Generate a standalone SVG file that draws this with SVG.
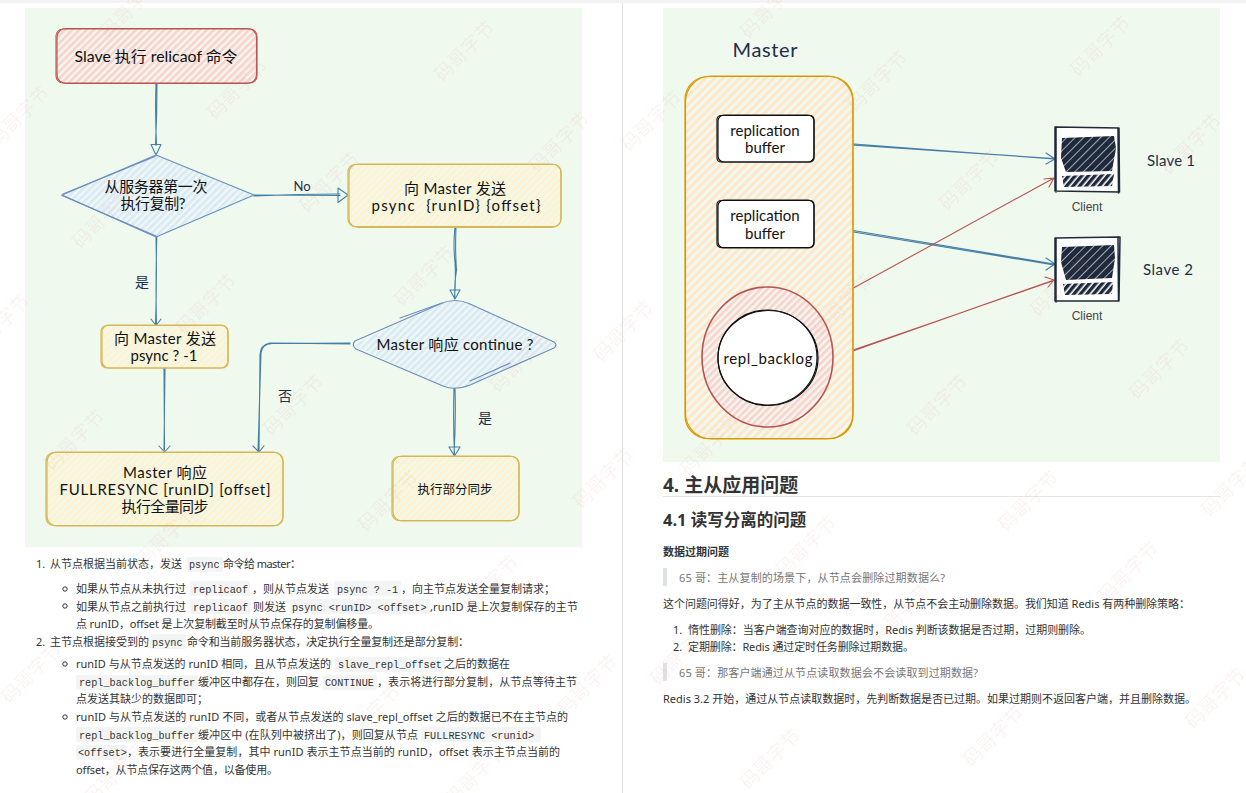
<svg xmlns="http://www.w3.org/2000/svg" width="1246" height="793" viewBox="0 0 1246 793">
<style>
text{font-family:"Noto Sans","Noto Sans CJK SC",sans-serif;fill:#333;font-size:11px}
.h{font-family:"Lato","Noto Sans CJK SC",sans-serif;fill:#111;font-size:15px;text-anchor:middle}
.lab{font-family:"Lato","Noto Sans CJK SC",sans-serif;fill:#1e2d4a;font-size:14px;text-anchor:middle}
.c{font-family:"Liberation Mono","Noto Sans CJK SC",monospace;font-size:10.2px;fill:#333}
.cb{fill:#f3f4f4}
.q{fill:#777}
.bar{fill:#dfe2e5}
.b{font-weight:700;fill:#333}
.s{fill:none;stroke-linejoin:round;stroke-linecap:round}
.red{stroke:#b85450;stroke-width:1.1}
.yel{stroke:#d6b656;stroke-width:1.2}
.blu{stroke:#6c8ebf;stroke-width:1.2}
.org{stroke:#d79b00;stroke-width:1.2}
.blk{stroke:#111;stroke-width:1.2}
.lnk{fill:none;stroke:#457fa5;stroke-width:1.1;stroke-linecap:round;stroke-linejoin:round}
.lnr{fill:none;stroke:#b85450;stroke-width:1.1;stroke-linecap:round;stroke-linejoin:round}
.wm{font-family:"Noto Sans CJK SC",sans-serif;font-size:19px;fill:#e8837f;fill-opacity:.11;text-anchor:middle}
.bul{fill:none;stroke:#333;stroke-width:1}
</style>
<defs>
<pattern id="hp" patternUnits="userSpaceOnUse" width="5" height="5" patternTransform="rotate(-45)"><rect width="5" height="5" fill="#f3f7ec"/><rect y="1" width="5" height="2.6" fill="#f9d2d0"/></pattern>
<pattern id="hy" patternUnits="userSpaceOnUse" width="5" height="5" patternTransform="rotate(-45)"><rect width="5" height="5" fill="#f1f9ec"/><rect y="1" width="5" height="2.600" fill="#fff2cc"/></pattern>
<pattern id="hb" patternUnits="userSpaceOnUse" width="5" height="5" patternTransform="rotate(-45)"><rect width="5" height="5" fill="#f0f9ee"/><rect y="1" width="5" height="2.600" fill="#dae8fc"/></pattern>
<pattern id="ho" patternUnits="userSpaceOnUse" width="6" height="6" patternTransform="rotate(-45)"><rect width="6" height="6" fill="#f1f9ec"/><rect y="1" width="6" height="3" fill="#ffe6cc"/></pattern>
<pattern id="dk" patternUnits="userSpaceOnUse" width="6" height="6" patternTransform="rotate(-45)"><rect y="0" width="6" height="5.400" fill="#1e293b"/></pattern>
<pattern id="dk2" patternUnits="userSpaceOnUse" width="5" height="5" patternTransform="rotate(-50)"><rect y="0" width="5" height="3.400" fill="#1e293b"/></pattern>
</defs>
<rect width="1246" height="793" fill="#fff"/>
<rect width="1246" height="3" fill="#f3f3f3"/>
<rect x="622" y="3" width="1" height="790" fill="#e2e2e2"/>
<rect x="25" y="8" width="557" height="539" fill="#f0f9ee"/>
<rect x="663" y="8" width="557" height="454" fill="#f0f9ee"/>

<g id="connectors">
<path class="lnk" d="M156 83Q155 115 156.500 145M157 83Q157 115 155.500 145M156 237Q157 280 155.500 325M156.800 237Q155.500 285 156.500 325M254 195L340 195.500M254 196Q300 194 340 194M164 368L164.500 450M165 368L164 450M455 227Q453 245 455 262Q456 280 454.500 298M456 227Q455 250 456.500 270Q454 285 455 298M350 343L272 343.500Q262 344 261 353L258 451M350 344L270 343Q260 345 260 355L259 451M454 388Q453 420 454.500 455M455 388Q456 420 454 455"/>
<path class="lnk" d="M151 144.500L161 144.500L156 155ZM338 188L348 195L338 202.500ZM151 319L156 325.500L161 319M159 446L164.500 452L170 446M450 290L455 299L460 290L450 290M253 446L259 452L264 446M449 447L454.500 456L460 447L449 447"/>
<path class="lnk" d="M814 141L1054 159M814 142.500L1054 158.500M814 224L1054 264M814 225.500L1054 265M1046 153L1055 159L1046 164M1046 258L1055 264L1046 270"/>
<path class="lnr" d="M817 308L1054 178M833 357L1054 280.500M833 358L1054 280M1044 179L1054 178L1049 187M1045 277L1054 280L1048 287"/>
<text class="lab" x="302" y="191" style="font-size:13px">No</text>
<text class="lab" x="142" y="287">是</text>
<text class="lab" x="285" y="401">否</text>
<text class="lab" x="485" y="423">是</text>
</g>

<g id="node-slave">
<rect x="56" y="29" width="201" height="54" rx="8" fill="url(#hp)"/>
<rect class="s red" x="56" y="29" width="201" height="54" rx="7"/>
<rect class="s red" x="57" y="28.500" width="199.500" height="55" rx="9"/>
<text class="h" x="156" y="62" textLength="163" lengthAdjust="spacingAndGlyphs">Slave 执行 relicaof 命令</text>
</g>
<g id="node-first">
<path d="M62 195L156 155L254 195L156 237Z" fill="url(#hb)"/>
<path class="s blu" d="M62 195L156 155L254 195L156 237Z"/>
<path class="s blu" d="M63 194L155 156.500M62 195.500L156 236"/>
<text class="h" x="156" y="192" textLength="103">从服务器第一次</text>
<text class="h" x="153" y="209" textLength="65">执行复制?</text>
</g>
<g id="node-psync-full">
<rect x="348" y="164" width="213" height="63" rx="8" fill="url(#hy)"/>
<rect class="s yel" x="348" y="164.500" width="213" height="62" rx="7"/>
<rect class="s yel" x="349" y="164" width="212" height="63.500" rx="9"/>
<text class="h" x="455" y="194" textLength="102">向 Master 发送</text>
<text class="h" x="456" y="211" textLength="169" xml:space="preserve">psync  {runID} {offset}</text>
</g>
<g id="node-psync-first">
<rect x="101" y="325" width="127" height="43" rx="6" fill="url(#hy)"/>
<rect class="s yel" x="101" y="325.500" width="127" height="42.500" rx="6"/>
<rect class="s yel" x="102" y="325" width="126" height="43" rx="7"/>
<text class="h" x="165" y="344" textLength="102">向 Master 发送</text>
<text class="h" x="164" y="361" textLength="67">psync ? -1</text>
</g>
<g id="node-continue">
<path d="M353 345L440 304Q455 298 470 304L556 345L470 385Q455 390 440 385Z" fill="url(#hb)"/>
<path class="s blu" d="M355 341L440 304Q455 297 470 304L554 342Q558 345 554 348L470 385Q455 391 443 386L356 349Q351 345 355 341Z"/>
<path class="s blu" d="M400 318L442 303M470 381L510 363"/>
<text class="h" x="455" y="350" textLength="157" xml:space="preserve">Master 响应 continue ?</text>
</g>
<g id="node-full">
<rect x="46" y="452" width="237" height="74" rx="9" fill="url(#hy)"/>
<rect class="s yel" x="46" y="452.500" width="237" height="73" rx="8"/>
<rect class="s yel" x="47" y="452" width="236" height="74" rx="10"/>
<text class="h" x="165" y="478" textLength="84">Master 响应</text>
<text class="h" x="165" y="495" textLength="211">FULLRESYNC [runID] [offset]</text>
<text class="h" x="165" y="512" textLength="87">执行全量同步</text>
</g>
<g id="node-partial">
<rect x="392" y="456" width="127" height="65" rx="8" fill="url(#hy)"/>
<rect class="s yel" x="392" y="456.500" width="127" height="64" rx="7"/>
<rect class="s yel" x="393" y="456" width="126" height="65" rx="9"/>
<text class="h" x="455" y="494" style="font-size:12.500px">执行部分同步</text>
</g>

<text class="lab" x="765" y="57" style="font-size:20px" textLength="65">Master</text>
<g id="node-master">
<rect x="685" y="76" width="168" height="363" rx="24" fill="url(#ho)"/>
<rect class="s org" x="685" y="76.500" width="168" height="362" rx="23"/>
<rect class="s org" x="685.500" y="76" width="167.500" height="363" rx="26"/>
</g>
<g id="node-buffer1">
<rect x="717" y="115" width="97" height="47" rx="5" fill="#fff"/>
<rect class="s blk" x="717" y="115.500" width="97" height="46.500" rx="4"/>
<rect class="s blk" x="718" y="115" width="96" height="47" rx="6"/>
<text class="h" x="765" y="136">replication</text>
<text class="h" x="765" y="153">buffer</text>
</g>
<g id="node-buffer2">
<rect x="717" y="200" width="97" height="48" rx="5" fill="#fff"/>
<rect class="s blk" x="717" y="200.500" width="97" height="47" rx="4"/>
<rect class="s blk" x="718" y="200" width="96" height="48" rx="6"/>
<text class="h" x="765" y="221">replication</text>
<text class="h" x="765" y="239">buffer</text>
</g>
<g id="node-backlog">
<ellipse cx="767.500" cy="357" rx="65.500" ry="70" fill="url(#hp)"/>
<ellipse class="s red" style="stroke-width:1.600" cx="767.500" cy="357" rx="65.500" ry="70"/>
<ellipse cx="768" cy="358" rx="50" ry="47.500" fill="#fff"/>
<ellipse class="s blk" cx="768" cy="358" rx="50" ry="47.500"/>
<ellipse class="s blk" cx="767.500" cy="357.500" rx="49.500" ry="47.500"/>
<text class="h" x="768" y="364" textLength="89">repl_backlog</text>
</g>
<g id="node-slave1">
<rect x="1055" y="127" width="64" height="65" fill="#fff"/>
<path class="s" style="stroke:#1e293b;stroke-width:1.500" d="M1055 127L1119 128L1119.500 192L1055 191ZM1056 127L1056 192M1118 128L1118.500 193"/>
<path d="M1062 138L1114 136L1116 148L1112 171L1066 172L1061 158Z" fill="url(#dk)"/>
<path d="M1062 176L1114 174L1112 186L1064 187Z" fill="url(#dk2)"/>
<text x="1087" y="211" text-anchor="middle" style="font-family:'Liberation Sans',sans-serif;font-size:12px;fill:#444">Client</text>
<text class="lab" x="1171" y="166" style="font-size:15px" textLength="48">Slave 1</text>
</g>
<g id="node-slave2">
<rect x="1055" y="237" width="64" height="65" fill="#fff"/>
<path class="s" style="stroke:#1e293b;stroke-width:1.500" d="M1055 238L1120 237L1119 301L1055 301ZM1056 238L1056 302M1118 237L1118.500 301"/>
<path d="M1062 247L1114 245L1115 258L1112 278L1066 280L1061 262Z" fill="url(#dk)"/>
<path d="M1063 284L1113 282L1112 294L1065 295Z" fill="url(#dk2)"/>
<text x="1087" y="320" text-anchor="middle" style="font-family:'Liberation Sans',sans-serif;font-size:12px;fill:#444">Client</text>
<text class="lab" x="1168" y="275" style="font-size:15px" textLength="50">Slave 2</text>
</g>

<g id="left-text">
<rect class="cb" x="187" y="557" width="36" height="15" rx="2"/>
<rect class="cb" x="190" y="581" width="60" height="15" rx="2"/>
<rect class="cb" x="334" y="581" width="67" height="15" rx="2"/>
<rect class="cb" x="190" y="599" width="60" height="15" rx="2"/>
<rect class="cb" x="290" y="599" width="140" height="15" rx="2"/>
<rect class="cb" x="150" y="634" width="36" height="15" rx="2"/>
<rect class="cb" x="335" y="657" width="110" height="15" rx="2"/>
<rect class="cb" x="76" y="675" width="122" height="15" rx="2"/>
<rect class="cb" x="323" y="675" width="54" height="15" rx="2"/>
<rect class="cb" x="76" y="727" width="122" height="15" rx="2"/>
<rect class="cb" x="421" y="727" width="120" height="15" rx="2"/>
<rect class="cb" x="76" y="745" width="51" height="15" rx="2"/>
<text x="36" y="568">1.</text>
<text x="50" y="568">从节点根据当前状态，发送</text>
<text class="c" x="189" y="568">psync</text>
<text x="223" y="568" textLength="78">命令给 master：</text>
<circle class="bul" cx="65" cy="589" r="2.200"/>
<text x="76" y="593">如果从节点从未执行过</text>
<text class="c" x="193" y="593">replicaof</text>
<text x="252" y="593">，则从节点发送</text>
<text class="c" x="337" y="593" xml:space="preserve">psync ? -1</text>
<text x="401" y="593">，向主节点发送全量复制请求；</text>
<circle class="bul" cx="65" cy="606" r="2.200"/>
<text x="76" y="611">如果从节点之前执行过</text>
<text class="c" x="193" y="611">replicaof</text>
<text x="253" y="611">则发送</text>
<text class="c" x="292" y="611" xml:space="preserve">psync &lt;runID&gt; &lt;offset&gt;</text>
<text x="430" y="611" textLength="148">,runID 是上次复制保存的主节</text>
<text x="76" y="628" textLength="303">点 runID，offset 是上次复制截至时从节点保存的复制偏移量。</text>
<text x="36" y="646">2.</text>
<text x="50" y="646">主节点根据接受到的</text>
<text class="c" x="152" y="646">psync</text>
<text x="187" y="646" textLength="282">命令和当前服务器状态，决定执行全量复制还是部分复制：</text>
<circle class="bul" cx="65" cy="664" r="2.200"/>
<text x="76" y="668" textLength="255">runID 与从节点发送的 runID 相同，且从节点发送的</text>
<text class="c" x="338" y="668">slave_repl_offset</text>
<text x="444" y="668">之后的数据在</text>
<text class="c" x="79" y="686">repl_backlog_buffer</text>
<text x="198" y="686">缓冲区中都存在，则回复</text>
<text class="c" x="325" y="686">CONTINUE</text>
<text x="377" y="686" textLength="200">，表示将进行部分复制，从节点等待主节</text>
<text x="76" y="703">点发送其缺少的数据即可；</text>
<circle class="bul" cx="65" cy="717" r="2.200"/>
<text x="76" y="721" textLength="492">runID 与从节点发送的 runID 不同，或者从节点发送的 slave_repl_offset 之后的数据已不在主节点的</text>
<text class="c" x="79" y="739">repl_backlog_buffer</text>
<text x="198" y="739" textLength="220">缓冲区中 (在队列中被挤出了)，则回复从节点</text>
<text class="c" x="424" y="739" xml:space="preserve">FULLRESYNC &lt;runid&gt;</text>
<text class="c" x="78" y="756">&lt;offset&gt;</text>
<text x="127" y="756" textLength="433">，表示要进行全量复制，其中 runID 表示主节点当前的 runID，offset 表示主节点当前的</text>
<text x="76" y="774" textLength="202">offset，从节点保存这两个值，以备使用。</text>
</g>

<g id="right-text">
<text class="b" x="663" y="492" style="font-size:19px">4. 主从应用问题</text>
<rect x="663" y="496" width="557" height="1" fill="#e6e6e6"/>
<text class="b" x="663" y="526" style="font-size:16.500px">4.1 读写分离的问题</text>
<text class="b" x="663" y="556">数据过期问题</text>
<rect class="bar" x="663" y="568" width="4" height="18"/>
<text class="q" x="679" y="582" textLength="266">65 哥：主从复制的场景下，从节点会删除过期数据么?</text>
<text x="663" y="608" textLength="527">这个问题问得好，为了主从节点的数据一致性，从节点不会主动删除数据。我们知道 Redis 有两种删除策略：</text>
<text x="673" y="634">1.</text>
<text x="688" y="634" textLength="403">惰性删除：当客户端查询对应的数据时，Redis 判断该数据是否过期，过期则删除。</text>
<text x="673" y="651">2.</text>
<text x="688" y="651" textLength="226">定期删除：Redis 通过定时任务删除过期数据。</text>
<rect class="bar" x="663" y="663" width="4" height="18"/>
<text class="q" x="679" y="677" textLength="299">65 哥：那客户端通过从节点读取数据会不会读取到过期数据?</text>
<text x="663" y="703" textLength="533">Redis 3.2 开始，通过从节点读取数据时，先判断数据是否已过期。如果过期则不返回客户端，并且删除数据。</text>
</g>

<g id="watermarks">
<text class="wm" transform="translate(135 13) rotate(-45)">码哥字节</text>
<text class="wm" transform="translate(242 94) rotate(-45)">码哥字节</text>
<text class="wm" transform="translate(334 187) rotate(-45)">码哥字节</text>
<text class="wm" transform="translate(429 281) rotate(-45)">码哥字节</text>
<text class="wm" transform="translate(525 367) rotate(-45)">码哥字节</text>
<text class="wm" transform="translate(469 56) rotate(-45)">码哥字节</text>
<text class="wm" transform="translate(564 147) rotate(-45)">码哥字节</text>
<text class="wm" transform="translate(24 121) rotate(-45)">码哥字节</text>
<text class="wm" transform="translate(107 223) rotate(-45)">码哥字节</text>
<text class="wm" transform="translate(211 309) rotate(-45)">码哥字节</text>
<text class="wm" transform="translate(298 410) rotate(-45)">码哥字节</text>
<text class="wm" transform="translate(393 506) rotate(-45)">码哥字节</text>
<text class="wm" transform="translate(493 590) rotate(-45)">码哥字节</text>
<text class="wm" transform="translate(592 690) rotate(-45)">码哥字节</text>
<text class="wm" transform="translate(4 329) rotate(-45)">码哥字节</text>
<text class="wm" transform="translate(79 445) rotate(-45)">码哥字节</text>
<text class="wm" transform="translate(171 541) rotate(-45)">码哥字节</text>
<text class="wm" transform="translate(36 678) rotate(-45)">码哥字节</text>
<text class="wm" transform="translate(270 620) rotate(-45)">码哥字节</text>
<text class="wm" transform="translate(375 720) rotate(-45)">码哥字节</text>
<text class="wm" transform="translate(119 779) rotate(-45)">码哥字节</text>
<text class="wm" transform="translate(480 780) rotate(-45)">码哥字节</text>
<text class="wm" transform="translate(775 13) rotate(-45)">码哥字节</text>
<text class="wm" transform="translate(882 86) rotate(-45)">码哥字节</text>
<text class="wm" transform="translate(974 185) rotate(-45)">码哥字节</text>
<text class="wm" transform="translate(1065 291) rotate(-45)">码哥字节</text>
<text class="wm" transform="translate(1164 374) rotate(-45)">码哥字节</text>
<text class="wm" transform="translate(1105 51) rotate(-45)">码哥字节</text>
<text class="wm" transform="translate(1196 149) rotate(-45)">码哥字节</text>
<text class="wm" transform="translate(656 126) rotate(-45)">码哥字节</text>
<text class="wm" transform="translate(628 336) rotate(-45)">码哥字节</text>
<text class="wm" transform="translate(847 309) rotate(-45)">码哥字节</text>
<text class="wm" transform="translate(942 410) rotate(-45)">码哥字节</text>
<text class="wm" transform="translate(715 450) rotate(-45)">码哥字节</text>
<text class="wm" transform="translate(608 483) rotate(-45)">码哥字节</text>
<text class="wm" transform="translate(1033 506) rotate(-45)">码哥字节</text>
<text class="wm" transform="translate(1236 491) rotate(-45)">码哥字节</text>
<text class="wm" transform="translate(811 551) rotate(-45)">码哥字节</text>
<text class="wm" transform="translate(1133 577) rotate(-45)">码哥字节</text>
<text class="wm" transform="translate(905 618) rotate(-45)">码哥字节</text>
<text class="wm" transform="translate(685 660) rotate(-45)">码哥字节</text>
<text class="wm" transform="translate(1220 703) rotate(-45)">码哥字节</text>
<text class="wm" transform="translate(998 741) rotate(-45)">码哥字节</text>
<text class="wm" transform="translate(775 764) rotate(-45)">码哥字节</text>
</g>
</svg>
